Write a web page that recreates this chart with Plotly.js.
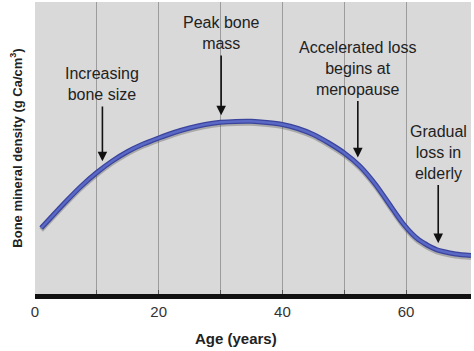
<!DOCTYPE html>
<html><head><meta charset="utf-8">
<script src="https://cdn.plot.ly/plotly-3.0.1.min.js"></script>
<style>html,body{margin:0;padding:0;background:#fff}#chart{width:474px;height:351px}</style>
</head><body><div id="chart"></div>
<script>
// Data (relative bone mineral density, arbitrary units)
var ages = [1, 2.5, 5, 7.5, 10, 12.5, 15, 17.5, 20, 22.5, 25, 27.5, 30, 32.5, 35, 37.5, 40, 42.5, 45, 47.5, 50, 52.5, 55, 57.5, 58.5, 59.5, 61, 62, 63, 64, 65, 66, 68, 70.5];
var density = [66, 76, 92.5, 108, 121.5, 133, 142.5, 150, 156, 161.5, 166, 169.5, 171.7, 172.6, 172.7, 171.5, 169.5, 165.5, 159.5, 151, 141, 128, 110, 88, 79, 70.5, 60, 54.5, 50.5, 47, 44.2, 42.5, 40, 38.5];
var majorTicks = [0, 20, 40, 60];
var majorLabels = ['0', '20', '40', '60'];
var minorTicks = [10, 30, 50];
var labelTexts = ['Increasing<br>bone size', 'Peak bone<br>mass', 'Accelerated loss<br>begins at<br>menopause', 'Gradual<br>loss in<br>elderly'];
var labelAges = [10.9, 30.1, 52.2, 65.2];
var labelLevels = [210, 261, 226, 142];

function interp(x) {
  for (var i = 0; i < ages.length - 1; i++) {
    if (x >= ages[i] && x <= ages[i + 1]) {
      var t = (x - ages[i]) / (ages[i + 1] - ages[i]);
      return density[i] + t * (density[i + 1] - density[i]);
    }
  }
  return density[density.length - 1];
}

var shadowY = density.map(function (v) { return v - 2; });
var traces = [
  {x: ages, y: shadowY, mode: 'lines', line: {color: 'rgba(80,80,80,0.35)', width: 5, shape: 'spline', smoothing: 0.8}, hoverinfo: 'skip'},
  {x: ages, y: density, mode: 'lines', line: {color: '#3a449c', width: 5, shape: 'spline', smoothing: 0.8}, hoverinfo: 'skip'},
  {x: ages, y: density, mode: 'lines', line: {color: '#5b69c6', width: 2.5, shape: 'spline', smoothing: 0.8}, hoverinfo: 'skip'}
];

var font = 'Liberation Sans, Arial, Helvetica, sans-serif';
var annotations = [];
for (var i = 0; i < labelTexts.length; i++) {
  annotations.push({x: labelAges[i], y: interp(labelAges[i]), xref: 'x', yref: 'y',
    ax: labelAges[i], ay: labelLevels[i], axref: 'x', ayref: 'y',
    text: labelTexts[i], showarrow: true, arrowhead: 2, arrowsize: 1.2, arrowwidth: 1.6, arrowcolor: '#111', standoff: 7,
    borderpad: 3, font: {family: font, size: 16, color: '#222'}, align: 'center'});
}
annotations.push({x: 0.461, y: -0.151, xref: 'paper', yref: 'paper', text: '<b>Age (years)</b>', showarrow: false,
  font: {family: font, size: 15, color: '#222'}, xanchor: 'center', yanchor: 'middle'});

var layout = {
  width: 474, height: 351,
  margin: {l: 35, r: 3, t: 2, b: 57},
  paper_bgcolor: '#ffffff', plot_bgcolor: '#d9d9d9',
  showlegend: false,
  font: {family: font, color: '#333'},
  xaxis: {range: [0, 70.5], tickmode: 'array', tickvals: majorTicks, ticktext: majorLabels, showgrid: true, gridcolor: '#9c9c9c', gridwidth: 1,
    minor: {tickmode: 'array', tickvals: minorTicks, showgrid: true, gridcolor: '#9c9c9c', gridwidth: 1, ticks: 'inside', ticklen: 4, tickcolor: '#555'},
    zeroline: false, showline: true, linecolor: '#111', linewidth: 5, ticks: 'inside', ticklen: 4, tickcolor: '#555',
    tickfont: {family: font, size: 15, color: '#333'}, fixedrange: true},
  yaxis: {range: [0, 292], showgrid: false, zeroline: false, showline: false, showticklabels: false, ticks: '',
    title: {text: '<b>Bone mineral density (g Ca/cm<sup>3</sup>)</b>', font: {family: font, size: 13, color: '#222'}, standoff: 8},
    fixedrange: true},
  annotations: annotations
};
Plotly.newPlot('chart', traces, layout, {displayModeBar: false, staticPlot: true});
</script></body></html>
